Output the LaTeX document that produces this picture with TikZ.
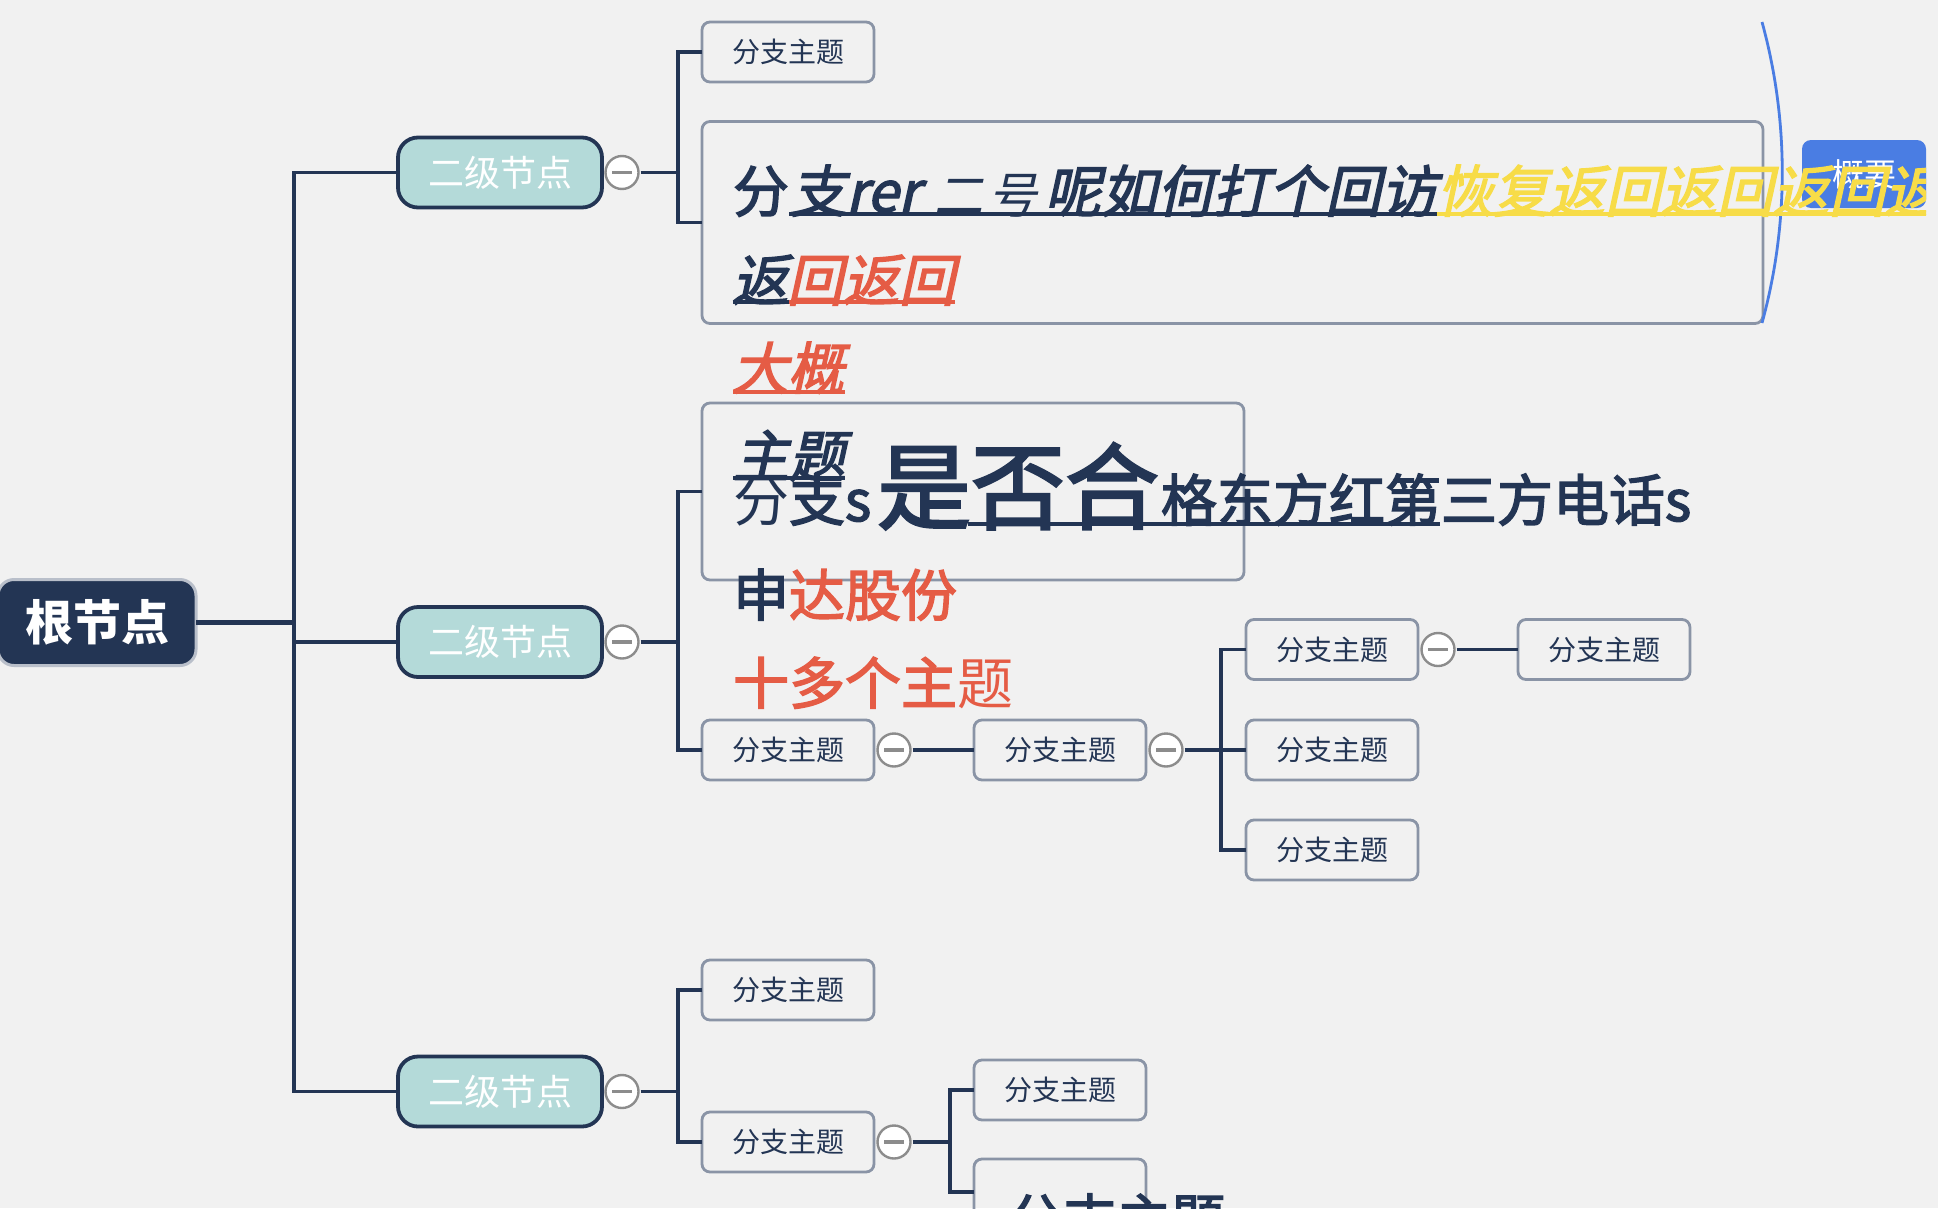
\documentclass[tikz,border=0pt]{standalone}
\usepackage{fontspec}
\setmainfont{Noto Sans CJK SC}
\newfontfamily\ital{Noto Sans CJK SC}[FakeSlant=0.22]
\newfontfamily\med{Noto Sans CJK SC}[FakeBold=2.6]
\newfontfamily\itmed{Noto Sans CJK SC}[FakeSlant=0.22,FakeBold=2.6]
\usetikzlibrary{positioning,calc}
\definecolor{navy}{HTML}{233554}
\definecolor{bg}{HTML}{F1F1F1}
\definecolor{edge}{HTML}{8A94A6}
\definecolor{teal2}{HTML}{B4DAD9}
\definecolor{redt}{HTML}{E55C45}
\definecolor{yel}{HTML}{F7DC48}
\definecolor{blu}{HTML}{4A7DE3}
\newcommand{\fs}[1]{\fontsize{#1}{#1}\selectfont}
\tikzset{
  x=1pt,y=-1pt,
  conn/.style={draw=navy,line width=3.6pt},
  rootconn/.style={draw=navy,line width=5pt},
  topic/.style={draw=edge,line width=2.8pt,rounded corners=8pt,minimum width=172pt,minimum height=60pt,inner sep=0,outer sep=0,text=navy,font=\fs{28}},
  bigbox/.style={draw=edge,line width=2.8pt,rounded corners=8pt,inner sep=0,outer sep=0},
  lvl/.style={draw=navy,fill=teal2,line width=3.8pt,rounded corners=20pt,minimum width=204pt,minimum height=70pt,inner sep=0,outer sep=0,text=white,font=\fs{36}},
  toggle/.style={circle,draw=gray!90,fill=white,line width=2.4pt,minimum size=33pt,inner sep=0,outer sep=0},
  tbar/.style={draw=gray!90,line width=3.4pt},
  row/.style={anchor=base west,inner sep=0,outer sep=0,text=navy},
  ul/.style={line width=3.6pt},
}
\begin{document}
\begin{tikzpicture}
\useasboundingbox[fill=bg] (0,0) rectangle (1938,1208);
\clip (0,0) rectangle (1938,1208);

% root and level two
\node[fill=navy,draw=edge!60,line width=3pt,rounded corners=16pt,minimum width=198pt,minimum height=86pt,inner sep=0,outer sep=0,text=white,font=\fs{48}\bfseries] (root) at (97,622.5) {根节点};
\node[lvl] (la) at (500,172.5) {二级节点};
\node[lvl] (lb) at (500,642) {二级节点};
\node[lvl] (lc) at (500,1091.5) {二级节点};
\node[toggle] (ta) at (622,172.5) {};
\node[toggle] (tb) at (622,642) {};
\node[toggle] (tc) at (622,1091.5) {};

% boxes
\node[topic] (a1) at (788,52) {分支主题};
\node[bigbox,minimum width=1061pt,minimum height=202pt] (a2) at (1232.5,222.5) {};
\node[bigbox,minimum width=542pt,minimum height=177pt] (b1) at (973,491.5) {};
\node[topic] (b2) at (788,750) {分支主题};
\node[toggle] (tb2) at (894,750) {};
\node[topic] (b3) at (1060,750) {分支主题};
\node[toggle] (tb3) at (1166,750) {};
\node[topic] (b4) at (1332,649.5) {分支主题};
\node[toggle] (tb4) at (1438,649.5) {};
\node[topic] (b5) at (1604,649.5) {分支主题};
\node[topic] (b6) at (1332,750) {分支主题};
\node[topic] (b7) at (1332,850) {分支主题};
\node[topic] (c1) at (788,990) {分支主题};
\node[topic] (c2) at (788,1142) {分支主题};
\node[toggle] (tc2) at (894,1142) {};
\node[topic] (c3) at (1060,1090) {分支主题};
\node[bigbox,minimum width=172pt,minimum height=140pt] (c4) at (1060,1229) {};
\foreach \t in {ta,tb,tc,tb2,tb3,tb4,tc2}{
  \draw[tbar] ([xshift=-10pt]\t.center) -- ([xshift=10pt]\t.center);
}

% connectors
\coordinate (trunkr) at (294,622.5);
\coordinate (trunkt) at (294,172.5);
\coordinate (trunkb) at (294,1091.5);
\draw[rootconn] (root.east) -- (trunkr);
\draw[conn] (la.west) -- (trunkt) -- (trunkb) -- (lc.west);
\draw[conn] (lb.west) -- (lb.west -| trunkr);
\coordinate (busa) at (678,172.5);
\coordinate (busb) at (678,642);
\coordinate (busc) at (678,1091.5);
\draw[conn,shorten <=2pt] (ta.east) -- (busa);
\draw[conn,shorten <=2pt] (tb.east) -- (busb);
\draw[conn,shorten <=2pt] (tc.east) -- (busc);
\draw[conn] (a1.west) -| (busa) |- (a2.west);
\draw[conn] (b1.west) -| (busb) |- (b2.west);
\draw[conn] (c1.west) -| (busc) |- (c2.west);
\draw[conn,shorten <=2pt] (tb2.east) -- (b3.west);
\coordinate (busd) at (1221,750);
\draw[conn,shorten <=2pt] (tb3.east) -- (b6.west);
\draw[conn] (b4.west) -| (busd) |- (b7.west);
\draw[conn,shorten <=2pt] (tb4.east) -- (b5.west);
\coordinate (buse) at (950,1142);
\draw[conn,shorten <=2pt] (tc2.east) -- (buse);
\draw[conn] (c3.west) -| (buse) |- (1,1192 -| c4.west);

% summary
\coordinate (suma) at (1762,22);
\coordinate (sumb) at (1762,323);
\node[fill=blu,rounded corners=9pt,minimum width=124pt,minimum height=68pt,inner sep=0,outer sep=0,text=white,font=\fs{32}] (sum) at (1864,174) {概要};
\draw[blu,line width=2.8pt] (suma) .. controls (1789,120) and (1789,225) .. (sumb);

% rich text of the first large box
\node[row,font=\fs{56}\med] (r1a) at (733,212) {分};
\node[row,font=\fs{56}\itmed] (r1b) at (790,212) {支rer};
\node[row,font=\fs{49}\ital] (r1c) at (934,213) {二\hspace{5pt}号};
\node[row,font=\fs{56}\itmed] (r1d) at (1045,212) {呢如何打个回访};
\begin{scope}
\clip (0,0) rectangle (1926,1208);
\draw[yel,ul] (1437,214) -- (1926,214);
\node[row,text=yel,font=\fs{56}\itmed] (r1e) at (1437,212) {恢复返回返回返回返};
\end{scope}
\draw[navy,ul] (789,214) -- (1437,214);
\node[row,font=\fs{56}\itmed] (r2a) at (732,301) {返};
\node[row,text=redt,font=\fs{56}\itmed] (r2b) at (787,301) {回返回};
\draw[navy,ul] (733,302) -- (789,302);
\draw[redt,ul] (789,302) -- (955,302);
\node[row,text=redt,font=\fs{56}\itmed] (r3) at (732,389) {大概};
\draw[redt,ul] (733,392) -- (845,392);
\node[row,font=\fs{56}\itmed] (r4) at (733,477) {主题};
\draw[navy,ul] (733,478) -- (845,478);

% rich text of the second large box
\node[row,font=\fs{56}] (r5a) at (733,521) {分};
\node[row,font=\fs{56}\med] (r5b) at (789,521) {支s};
\node[row,font=\fs{94}\med] (r5c) at (877,522) {是否合};
\node[row,font=\fs{56}\med] (r5d) at (1161,521) {格东方红第三方电话s};
\draw[navy,ul] (968,524) -- (1440,524);
\node[row,font=\fs{56}\med] (r6a) at (733,616) {申};
\node[row,text=redt,font=\fs{56}\med] (r6b) at (789,616) {达股份};
\node[row,text=redt,font=\fs{56}\med] (r7a) at (733,704) {十多个主};
\node[row,text=redt,font=\fs{56}] (r7b) at (957,704) {题};
\node[row,font=\fs{54}\med] (c4t) at (1009,1239) {分支主题};
\end{tikzpicture}
\end{document}
